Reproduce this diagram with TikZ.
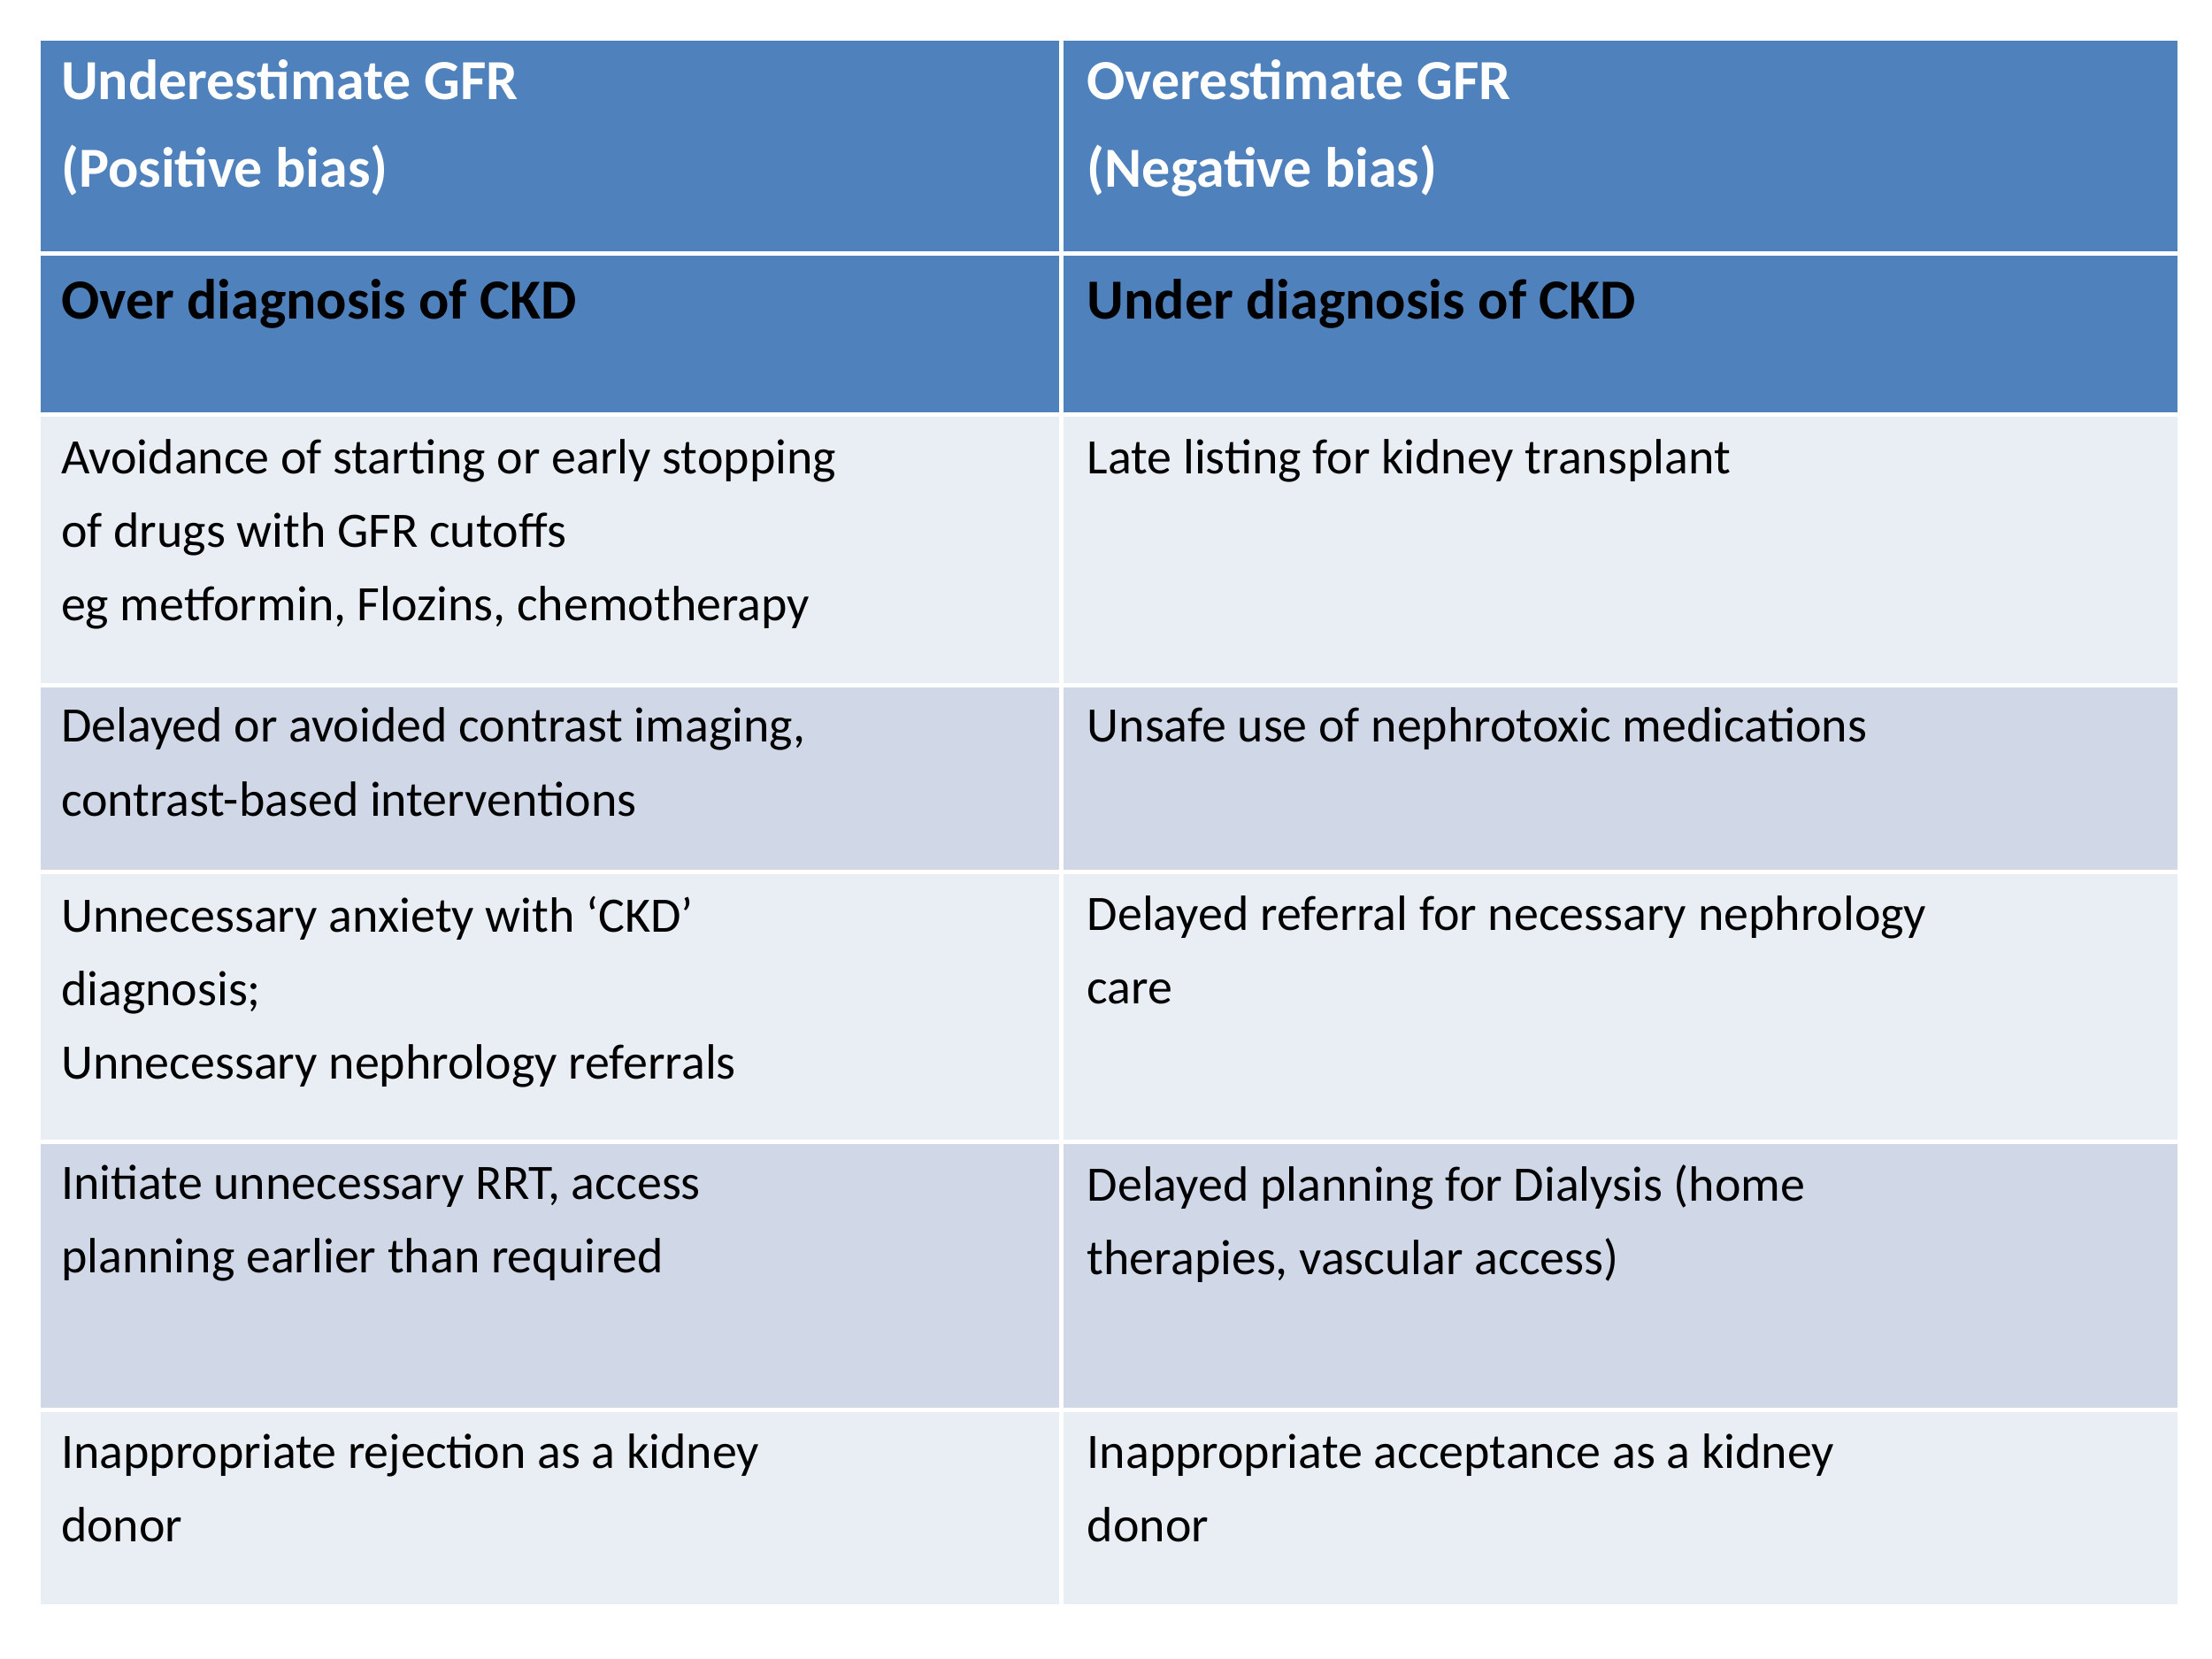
\documentclass[tikz,border=0pt]{standalone}
\usepackage{fontspec}
\setmainfont{Carlito}
\definecolor{hdr}{HTML}{4F81BD}
\definecolor{lite}{HTML}{E9EDF4}
\definecolor{dark}{HTML}{D0D8E8}
\begin{document}
\begin{tikzpicture}[x=1pt,y=-1pt,
  cell/.style={draw=white,line width=3pt},
  txt/.style={anchor=north west,inner sep=0pt,align=left,font=\fontsize{35}{52}\selectfont},
  htxt/.style={txt,text=white,font=\fontsize{40}{62}\selectfont\bfseries},
  stxt/.style={txt,font=\fontsize{40}{62}\selectfont\bfseries}]
\useasboundingbox[fill=white] (0,0) rectangle (1563,1172);
\foreach \a/\b/\c in {27/179/hdr,179/293/hdr,293/484/lite,484/616/dark,616/807/lite,807/996/dark,996/1135/lite}{
  \fill[\c] (27,\a) rectangle (1540,\b);
}
\foreach \a/\b in {27/179,179/293,293/484,484/616,616/807,807/996,996/1135}{
  \draw[cell] (27,\a) rectangle (750,\b);
  \draw[cell] (750,\a) rectangle (1540,\b);
}
\node[htxt] (h1) at (43,42) {Underestimate GFR\\(Positive bias)};
\node[htxt] (h2) at (768,42) {Overestimate GFR\\(Negative bias)};
\node[stxt] (s1) at (43,197) {Over diagnosis of CKD};
\node[stxt] (s2) at (768,197) {Under diagnosis of CKD};
\node[txt] (a1) at (43,310) {Avoidance of starting or early stopping\\of drugs with GFR cutoffs\\eg metformin, Flozins, chemotherapy};
\node[txt] (a2) at (768,310) {Late listing for kidney transplant};
\node[txt] (b1) at (43,500) {Delayed or avoided contrast imaging,\\contrast-based interventions};
\node[txt] (b2) at (768,500) {Unsafe use of nephrotoxic medications};
\node[txt] (c1) at (43,633) {Unnecessary anxiety with ‘CKD’\\diagnosis;\\Unnecessary nephrology referrals};
\node[txt] (c2) at (768,633) {Delayed referral for necessary nephrology\\care};
\node[txt] (d1) at (43,823) {Initiate unnecessary RRT, access\\planning earlier than required};
\node[txt] (d2) at (768,823) {Delayed planning for Dialysis (home\\therapies, vascular access)};
\node[txt] (e1) at (43,1013) {Inappropriate rejection as a kidney\\donor};
\node[txt] (e2) at (768,1013) {Inappropriate acceptance as a kidney\\donor};
\end{tikzpicture}
\end{document}
